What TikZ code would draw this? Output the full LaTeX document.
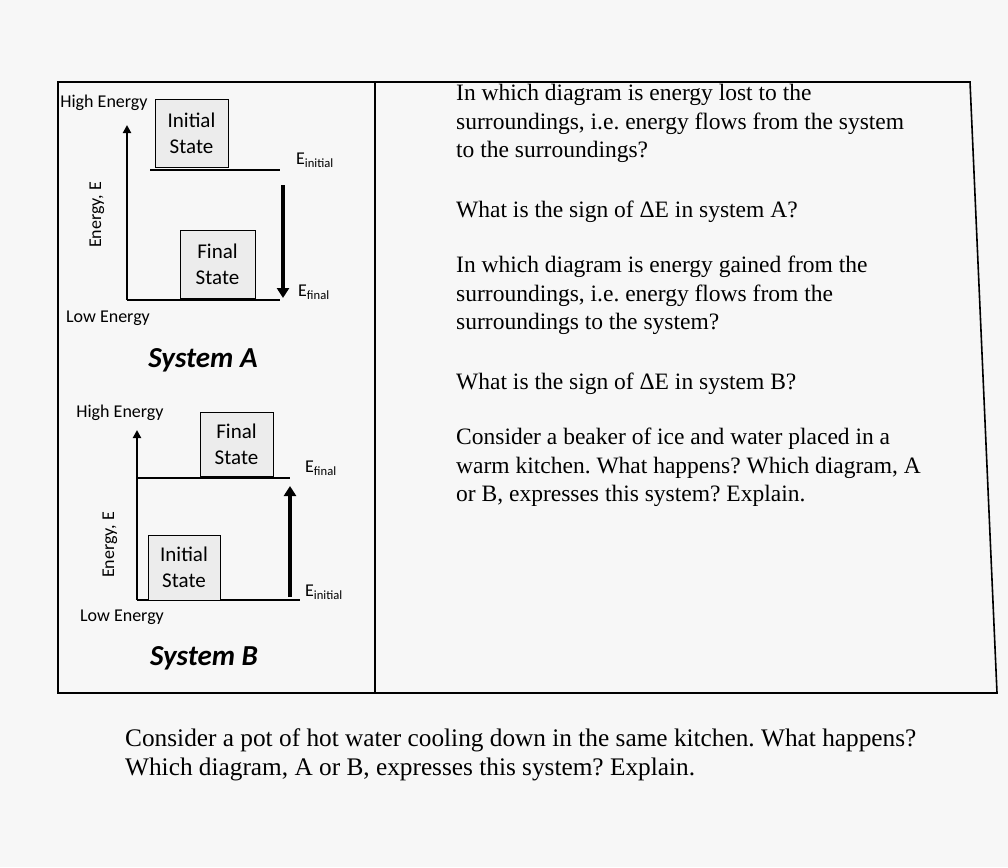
\documentclass[tikz,border=0pt]{standalone}
\usepackage{fontspec}
\setmainfont{Liberation Serif}
\newfontfamily\calfont{Carlito}
\usetikzlibrary{arrows.meta}
\begin{document}
\frenchspacing
\begin{tikzpicture}[x=1pt,y=-1pt,
  frame/.style={line width=1.6pt},
  lvl/.style={line width=2pt},
  st/.style={draw,line width=1pt,fill=gray!15,font=\calfont\fontsize{21}{26}\selectfont,align=center,inner sep=0pt},
  lab/.style={font=\calfont\fontsize{18}{20}\selectfont,inner sep=0pt},
  sys/.style={font=\calfont\bfseries\itshape\fontsize{29}{30}\selectfont,inner sep=0pt},
  q/.style={font=\fontsize{23.5}{28.5}\selectfont,align=left,anchor=north west,inner sep=0pt},
  big/.style={line width=4pt,-{Triangle[length=10pt,width=12pt]}},
  ax/.style={line width=2pt,-{Triangle[length=8pt,width=8pt]}}]
\fill[gray!6] (0,0) rectangle (1008,867);
\useasboundingbox (0,0) rectangle (1008,867);
% frames
\draw[frame] (58,82) rectangle (375,693);
\draw[frame] (375,82) -- (970,82) -- (997,693) -- (375,693);
% System A
\node[lab] (hA) at (104,103) {High Energy};
\node[lab] (lA) at (108,318) {Low Energy};
\node[lab,rotate=90] (eA) at (97,215) {Energy, E};
\coordinate (oA) at (127,300);
\coordinate (tA) at (127,125);
\draw[ax] (oA) -- (tA);
\coordinate (bAe) at (280,300);
\draw[lvl] (oA) -- (bAe);
\coordinate (uA1) at (150,170); \coordinate (uA2) at (280,170);
\draw[lvl] (uA1) -- (uA2);
\node[st,minimum width=73pt,minimum height=68pt] (iA) at (191.5,133) {Initial\\State};
\node[st,minimum width=75pt,minimum height=68pt] (fA) at (217.5,264) {Final\\State};
\coordinate (aA1) at (283,185); \coordinate (aA2) at (283,298);
\draw[big] (aA1) -- (aA2);
\node[lab,anchor=west] (eiA) at (296,160) {E\textsubscript{initial}};
\node[lab,anchor=west] (efA) at (298,292) {E\textsubscript{final}};
\node[sys] (sA) at (203,360) {System A};
% System B
\node[lab] (hB) at (120,413) {High Energy};
\node[lab] (lB) at (122,617) {Low Energy};
\node[lab,rotate=90] (eB) at (110,545) {Energy, E};
\coordinate (oB) at (137,600);
\coordinate (tB) at (137,430);
\draw[ax] (oB) -- (tB);
\coordinate (bBe) at (300,600);
\draw[lvl] (oB) -- (bBe);
\coordinate (uB1) at (137,478); \coordinate (uB2) at (290,478);
\draw[lvl] (uB1) -- (uB2);
\node[st,minimum width=73pt,minimum height=64pt] (fB) at (236.5,444) {Final\\State};
\node[st,minimum width=72pt,minimum height=65pt] (iB) at (184,567.5) {Initial\\State};
\coordinate (aB1) at (290,597); \coordinate (aB2) at (290,486);
\draw[big] (aB1) -- (aB2);
\node[lab,anchor=west] (efB) at (305,468) {E\textsubscript{final}};
\node[lab,anchor=west] (eiB) at (305,592) {E\textsubscript{initial}};
\node[sys] (sB) at (204,658) {System B};
% questions
\node[q] (q1) at (456,84) {In which diagram is energy lost to the\\surroundings, i.e. energy flows from the system\\to the surroundings?};
\node[q] (q2) at (456,201) {What is the sign of ΔE in system A?};
\node[q] (q3) at (456,256) {In which diagram is energy gained from the\\surroundings, i.e. energy flows from the\\surroundings to the system?};
\node[q] (q4) at (456,373) {What is the sign of ΔE in system B?};
\node[q] (q5) at (456,428) {Consider a beaker of ice and water placed in a\\warm kitchen. What happens? Which diagram, A\\or B, expresses this system? Explain.};
\node[q,font=\fontsize{25.3}{29}\selectfont] (q6) at (125,728) {Consider a pot of hot water cooling down in the same kitchen. What happens?\\Which diagram, A or B, expresses this system? Explain.};
\end{tikzpicture}
\end{document}
